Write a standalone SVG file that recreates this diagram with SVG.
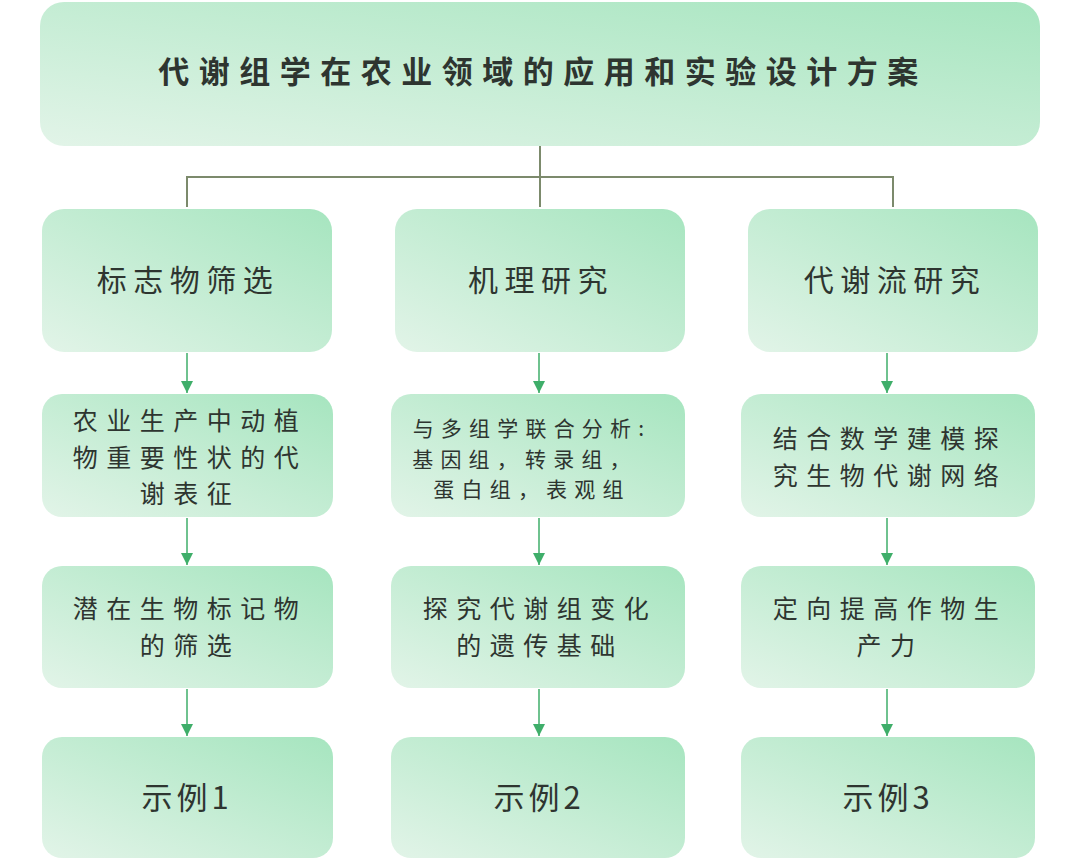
<svg xmlns="http://www.w3.org/2000/svg" width="1080" height="859" viewBox="0 0 1080 859">
<defs>
<linearGradient id="g" x1="0" y1="1" x2="1" y2="0">
<stop offset="0" stop-color="#e2f4e8"/>
<stop offset="1" stop-color="#a6e5bf"/>
</linearGradient>
<marker id="ah" viewBox="0 0 10 10" refX="10" refY="5" markerWidth="12" markerHeight="12" markerUnits="userSpaceOnUse" orient="auto">
<path d="M0,0 L10,5 L0,10 z" fill="#3fae6a"/>
</marker>
<style>
.box{fill:url(#g);}
.t{font-family:"Noto Sans CJK SC","Noto Sans",sans-serif;fill:#2e3530;text-anchor:middle;}
.title{font-size:31px;font-weight:bold;letter-spacing:9.5px;}
.l1{font-size:30px;letter-spacing:6.5px;}
.l2{font-size:25px;letter-spacing:8.5px;}
.l2s{font-size:21px;letter-spacing:7.2px;}
.l4{font-size:31px;letter-spacing:4px;}
.tree{fill:none;stroke:#7c8a6c;stroke-width:2;}
.arr{fill:none;stroke:#3fae6a;stroke-width:1.5;marker-end:url(#ah);}
</style>
</defs>
<rect width="1080" height="859" fill="#ffffff"/>
<g id="connectors">
<path class="tree" d="M540,146 V177 M187,207 V177 H893 V207 M540,177 V207"/>
<path class="arr" d="M187,353 V393"/>
<path class="arr" d="M539,353 V393"/>
<path class="arr" d="M887,353 V393"/>
<path class="arr" d="M187,518 V565"/>
<path class="arr" d="M539,518 V565"/>
<path class="arr" d="M887,518 V565"/>
<path class="arr" d="M187,689 V736"/>
<path class="arr" d="M539,689 V736"/>
<path class="arr" d="M887,689 V736"/>
</g>
<g id="title">
<rect class="box" x="40" y="2" width="1000" height="144" rx="24"/>
<text class="t title" x="543" y="83">代谢组学在农业领域的应用和实验设计方案</text>
</g>
<g id="n1">
<rect class="box" x="42" y="209" width="290" height="143" rx="22"/>
<text class="t l1" x="188" y="291">标志物筛选</text>
</g>
<g id="n2">
<rect class="box" x="395" y="209" width="290" height="143" rx="22"/>
<text class="t l1" x="541" y="291">机理研究</text>
</g>
<g id="n3">
<rect class="box" x="748" y="209" width="290" height="143" rx="22"/>
<text class="t l1" x="895" y="291">代谢流研究</text>
</g>
<g id="n4">
<rect class="box" x="42" y="394" width="291" height="123" rx="20"/>
<text class="t l2" x="190" y="430">农业生产中动植</text>
<text class="t l2" x="190" y="466.5">物重要性状的代</text>
<text class="t l2" x="190" y="503">谢表征</text>
</g>
<g id="n5">
<rect class="box" x="391" y="394" width="294" height="123" rx="20"/>
<text class="t l2s" x="532" y="436">与多组学联合分析:</text>
<text class="t l2s" x="525" y="466.5">基因组，转录组，</text>
<text class="t l2s" x="532" y="497">蛋白组，表观组</text>
</g>
<g id="n6">
<rect class="box" x="741" y="394" width="294" height="123" rx="20"/>
<text class="t l2" x="890" y="448">结合数学建模探</text>
<text class="t l2" x="890" y="484.5">究生物代谢网络</text>
</g>
<g id="n7">
<rect class="box" x="42" y="566" width="291" height="122" rx="20"/>
<text class="t l2" x="190" y="618">潜在生物标记物</text>
<text class="t l2" x="190" y="654.5">的筛选</text>
</g>
<g id="n8">
<rect class="box" x="391" y="566" width="294" height="122" rx="20"/>
<text class="t l2" x="540" y="618">探究代谢组变化</text>
<text class="t l2" x="540" y="654.5">的遗传基础</text>
</g>
<g id="n9">
<rect class="box" x="741" y="566" width="294" height="122" rx="20"/>
<text class="t l2" x="890" y="618">定向提高作物生</text>
<text class="t l2" x="890" y="654.5">产力</text>
</g>
<g id="n10">
<rect class="box" x="42" y="737" width="291" height="121" rx="20"/>
<text class="t l4" x="187" y="809">示例1</text>
</g>
<g id="n11">
<rect class="box" x="391" y="737" width="294" height="121" rx="20"/>
<text class="t l4" x="539" y="809">示例2</text>
</g>
<g id="n12">
<rect class="box" x="741" y="737" width="294" height="121" rx="20"/>
<text class="t l4" x="888" y="809">示例3</text>
</g>
</svg>
